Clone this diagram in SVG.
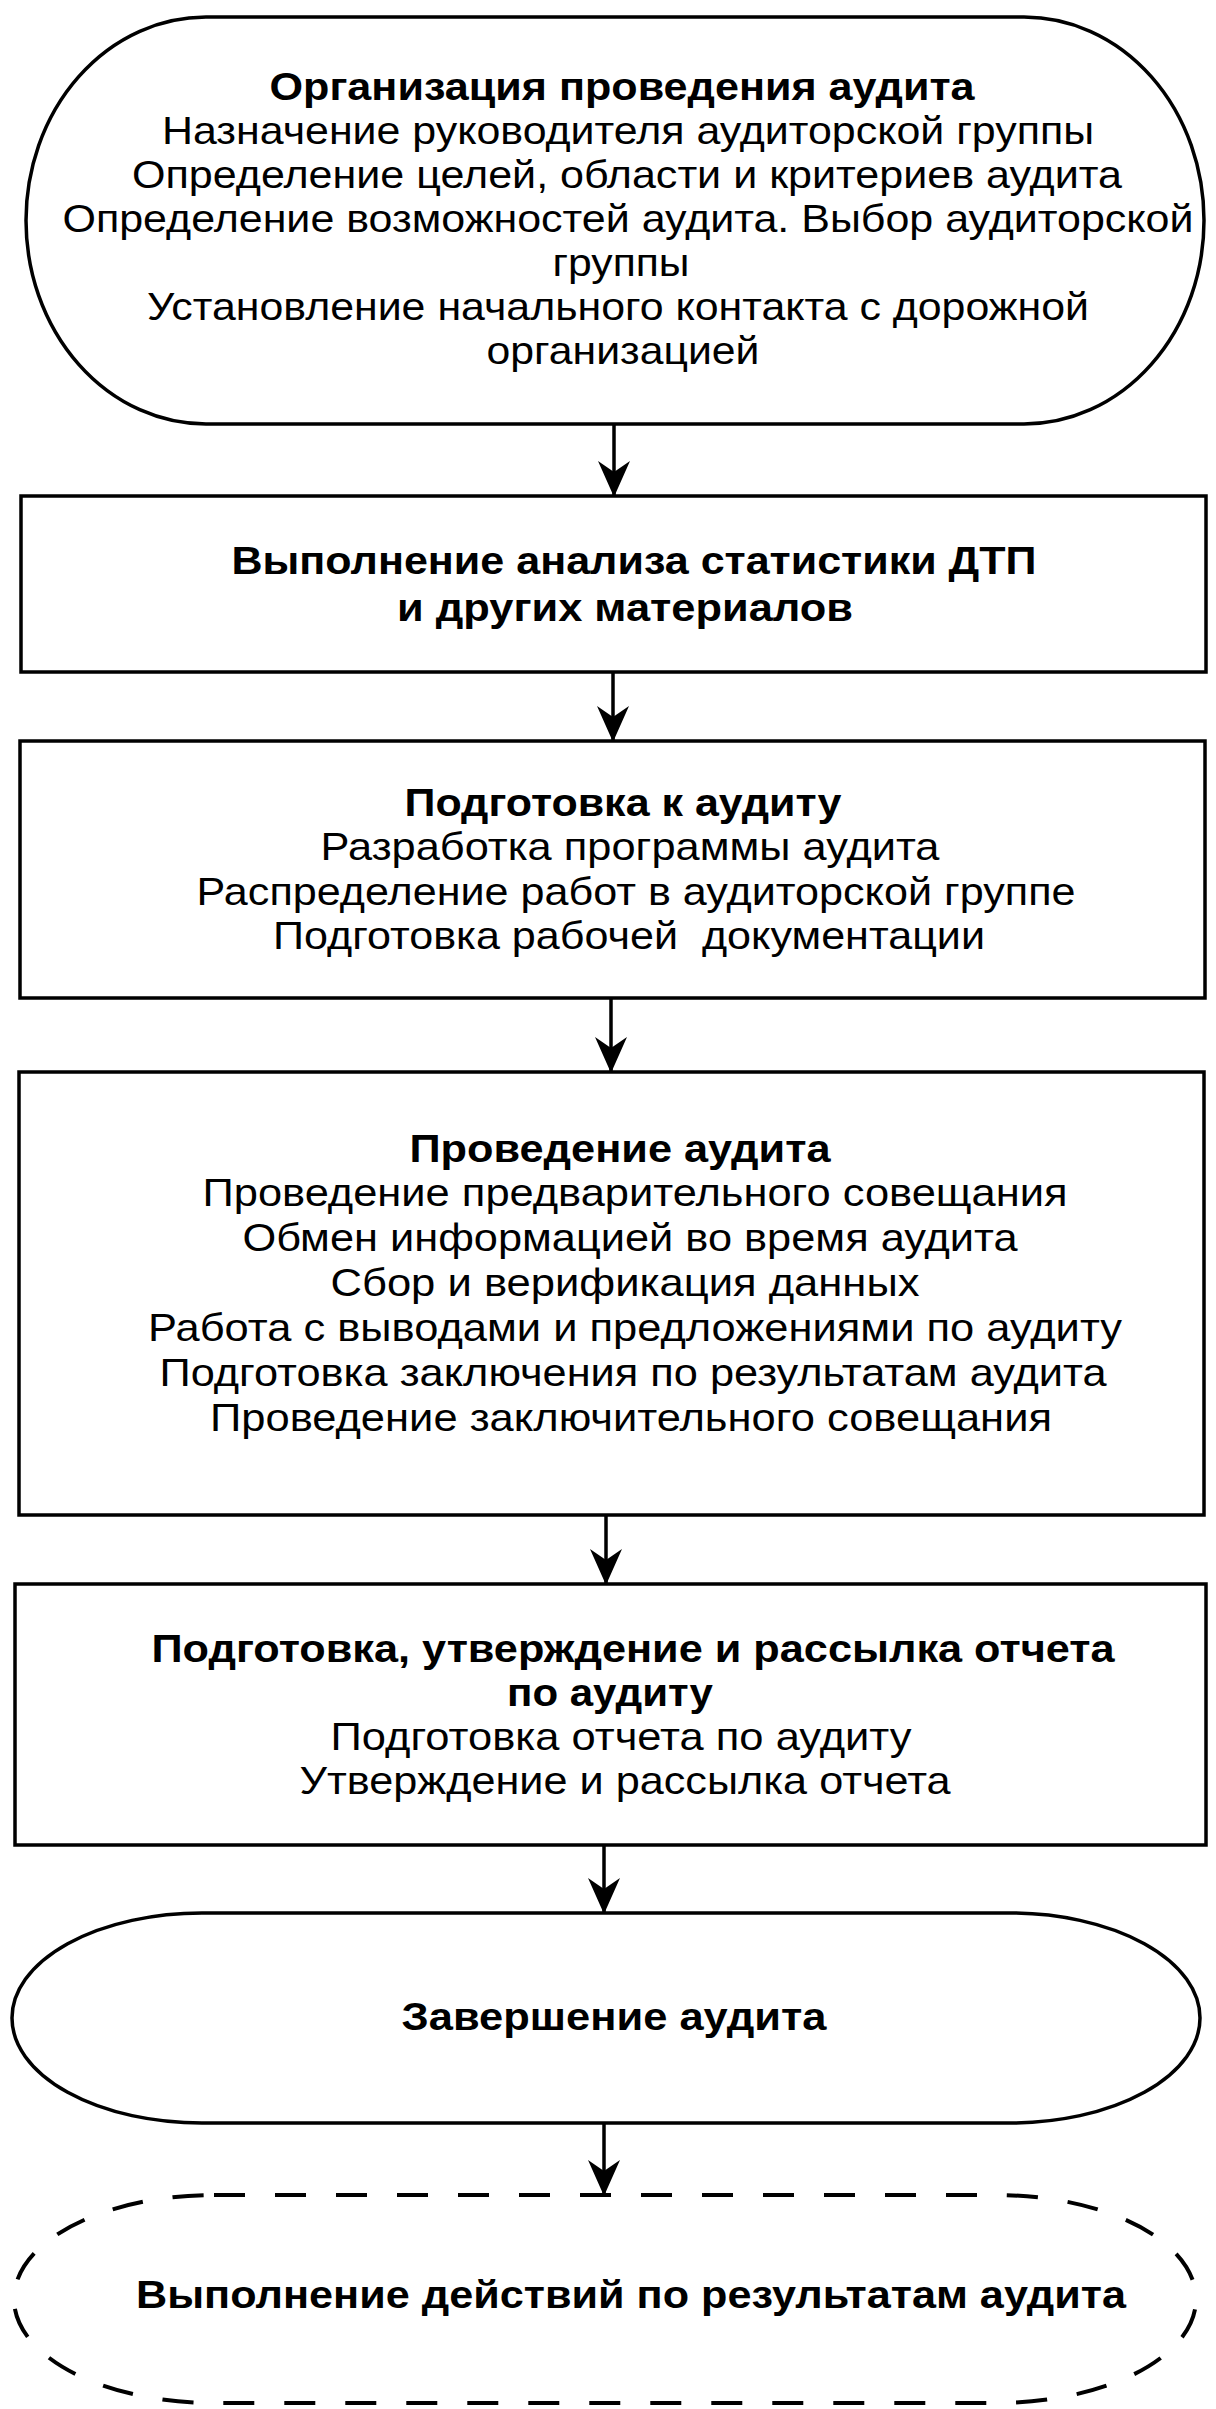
<svg xmlns="http://www.w3.org/2000/svg" width="1216" height="2409" viewBox="0 0 1216 2409">
<style>
.bg{fill:#fff}
.shape{fill:#fff;stroke:#000;stroke-width:3.5}
.dash{fill:#fff;stroke:#000;stroke-width:4;stroke-dasharray:31 30}
.t{font-family:"Liberation Sans",Arial,sans-serif;font-size:39px;fill:#000;text-anchor:middle}
.b{font-weight:bold}
.conn{stroke:#000;stroke-width:3.5;fill:none;marker-end:url(#ah)}
</style>
<defs>
<marker id="ah" viewBox="0 0 36 32" refX="35" refY="16" markerWidth="36" markerHeight="32" orient="auto" markerUnits="userSpaceOnUse">
<path d="M0,0 L36,16 L0,32 L11,16 Z" fill="#000"/>
</marker>
</defs>
<rect class="bg" x="0" y="0" width="1216" height="2409"/>

<g id="node-organization">
<path class="shape" d="M206,17 H1024 A180,203.5 0 0 1 1024,424 H206 A180,203.5 0 0 1 206,17 Z"/>
<text class="t b" x="622" y="100" textLength="705" lengthAdjust="spacingAndGlyphs">Организация проведения аудита</text>
<text class="t" x="628" y="144" textLength="932" lengthAdjust="spacingAndGlyphs">Назначение руководителя аудиторской группы</text>
<text class="t" x="627" y="188" textLength="990" lengthAdjust="spacingAndGlyphs">Определение целей, области и критериев аудита</text>
<text class="t" x="628" y="232" textLength="1131" lengthAdjust="spacingAndGlyphs">Определение возможностей аудита. Выбор аудиторской</text>
<text class="t" x="621" y="276" textLength="137" lengthAdjust="spacingAndGlyphs">группы</text>
<text class="t" x="618" y="320" textLength="942" lengthAdjust="spacingAndGlyphs">Установление начального контакта с дорожной</text>
<text class="t" x="623" y="364" textLength="273" lengthAdjust="spacingAndGlyphs">организацией</text>
</g>

<g id="node-analysis">
<rect class="shape" x="21" y="496" width="1185" height="176"/>
<text class="t b" x="634" y="574" textLength="805" lengthAdjust="spacingAndGlyphs">Выполнение анализа статистики ДТП</text>
<text class="t b" x="625" y="621" textLength="456" lengthAdjust="spacingAndGlyphs">и других материалов</text>
</g>

<g id="node-preparation">
<rect class="shape" x="20" y="741" width="1185" height="257"/>
<text class="t b" x="623" y="816" textLength="437" lengthAdjust="spacingAndGlyphs">Подготовка к аудиту</text>
<text class="t" x="630" y="860" textLength="619" lengthAdjust="spacingAndGlyphs">Разработка программы аудита</text>
<text class="t" x="636" y="905" textLength="879" lengthAdjust="spacingAndGlyphs">Распределение работ в аудиторской группе</text>
<text class="t" x="629" y="949" textLength="712" lengthAdjust="spacingAndGlyphs" xml:space="preserve">Подготовка рабочей  документации</text>
</g>

<g id="node-conduct">
<rect class="shape" x="19" y="1072" width="1185" height="443"/>
<text class="t b" x="620" y="1162" textLength="421" lengthAdjust="spacingAndGlyphs">Проведение аудита</text>
<text class="t" x="635" y="1206" textLength="865" lengthAdjust="spacingAndGlyphs">Проведение предварительного совещания</text>
<text class="t" x="630" y="1251" textLength="775" lengthAdjust="spacingAndGlyphs">Обмен информацией во время аудита</text>
<text class="t" x="625" y="1296" textLength="589" lengthAdjust="spacingAndGlyphs">Сбор и верификация данных</text>
<text class="t" x="635" y="1341" textLength="974" lengthAdjust="spacingAndGlyphs">Работа с выводами и предложениями по аудиту</text>
<text class="t" x="633" y="1386" textLength="947" lengthAdjust="spacingAndGlyphs">Подготовка заключения по результатам аудита</text>
<text class="t" x="631" y="1431" textLength="842" lengthAdjust="spacingAndGlyphs">Проведение заключительного совещания</text>
</g>

<g id="node-report">
<rect class="shape" x="15" y="1584" width="1191" height="261"/>
<text class="t b" x="633" y="1662" textLength="963" lengthAdjust="spacingAndGlyphs">Подготовка, утверждение и рассылка отчета</text>
<text class="t b" x="610" y="1706" textLength="206" lengthAdjust="spacingAndGlyphs">по аудиту</text>
<text class="t" x="621" y="1750" textLength="581" lengthAdjust="spacingAndGlyphs">Подготовка отчета по аудиту</text>
<text class="t" x="625" y="1794" textLength="651" lengthAdjust="spacingAndGlyphs">Утверждение и рассылка отчета</text>
</g>

<g id="node-completion">
<path class="shape" d="M202,1913 H1010 A190,105 0 0 1 1010,2123 H202 A190,105 0 0 1 202,1913 Z"/>
<text class="t b" x="614" y="2030" textLength="425" lengthAdjust="spacingAndGlyphs">Завершение аудита</text>
</g>

<g id="node-followup">
<path class="dash" d="M214,2195 H996 A200,104 0 0 1 996,2403 H214 A200,104 0 0 1 214,2195 Z"/>
<text class="t b" x="631" y="2308" textLength="990" lengthAdjust="spacingAndGlyphs">Выполнение действий по результатам аудита</text>
</g>

<g id="connectors">
<line class="conn" x1="614" y1="424" x2="614" y2="496"/>
<line class="conn" x1="613" y1="672" x2="613" y2="741"/>
<line class="conn" x1="611" y1="998" x2="611" y2="1072"/>
<line class="conn" x1="606" y1="1515" x2="606" y2="1584"/>
<line class="conn" x1="604" y1="1845" x2="604" y2="1913"/>
<line class="conn" x1="604" y1="2123" x2="604" y2="2195"/>
</g>
</svg>
